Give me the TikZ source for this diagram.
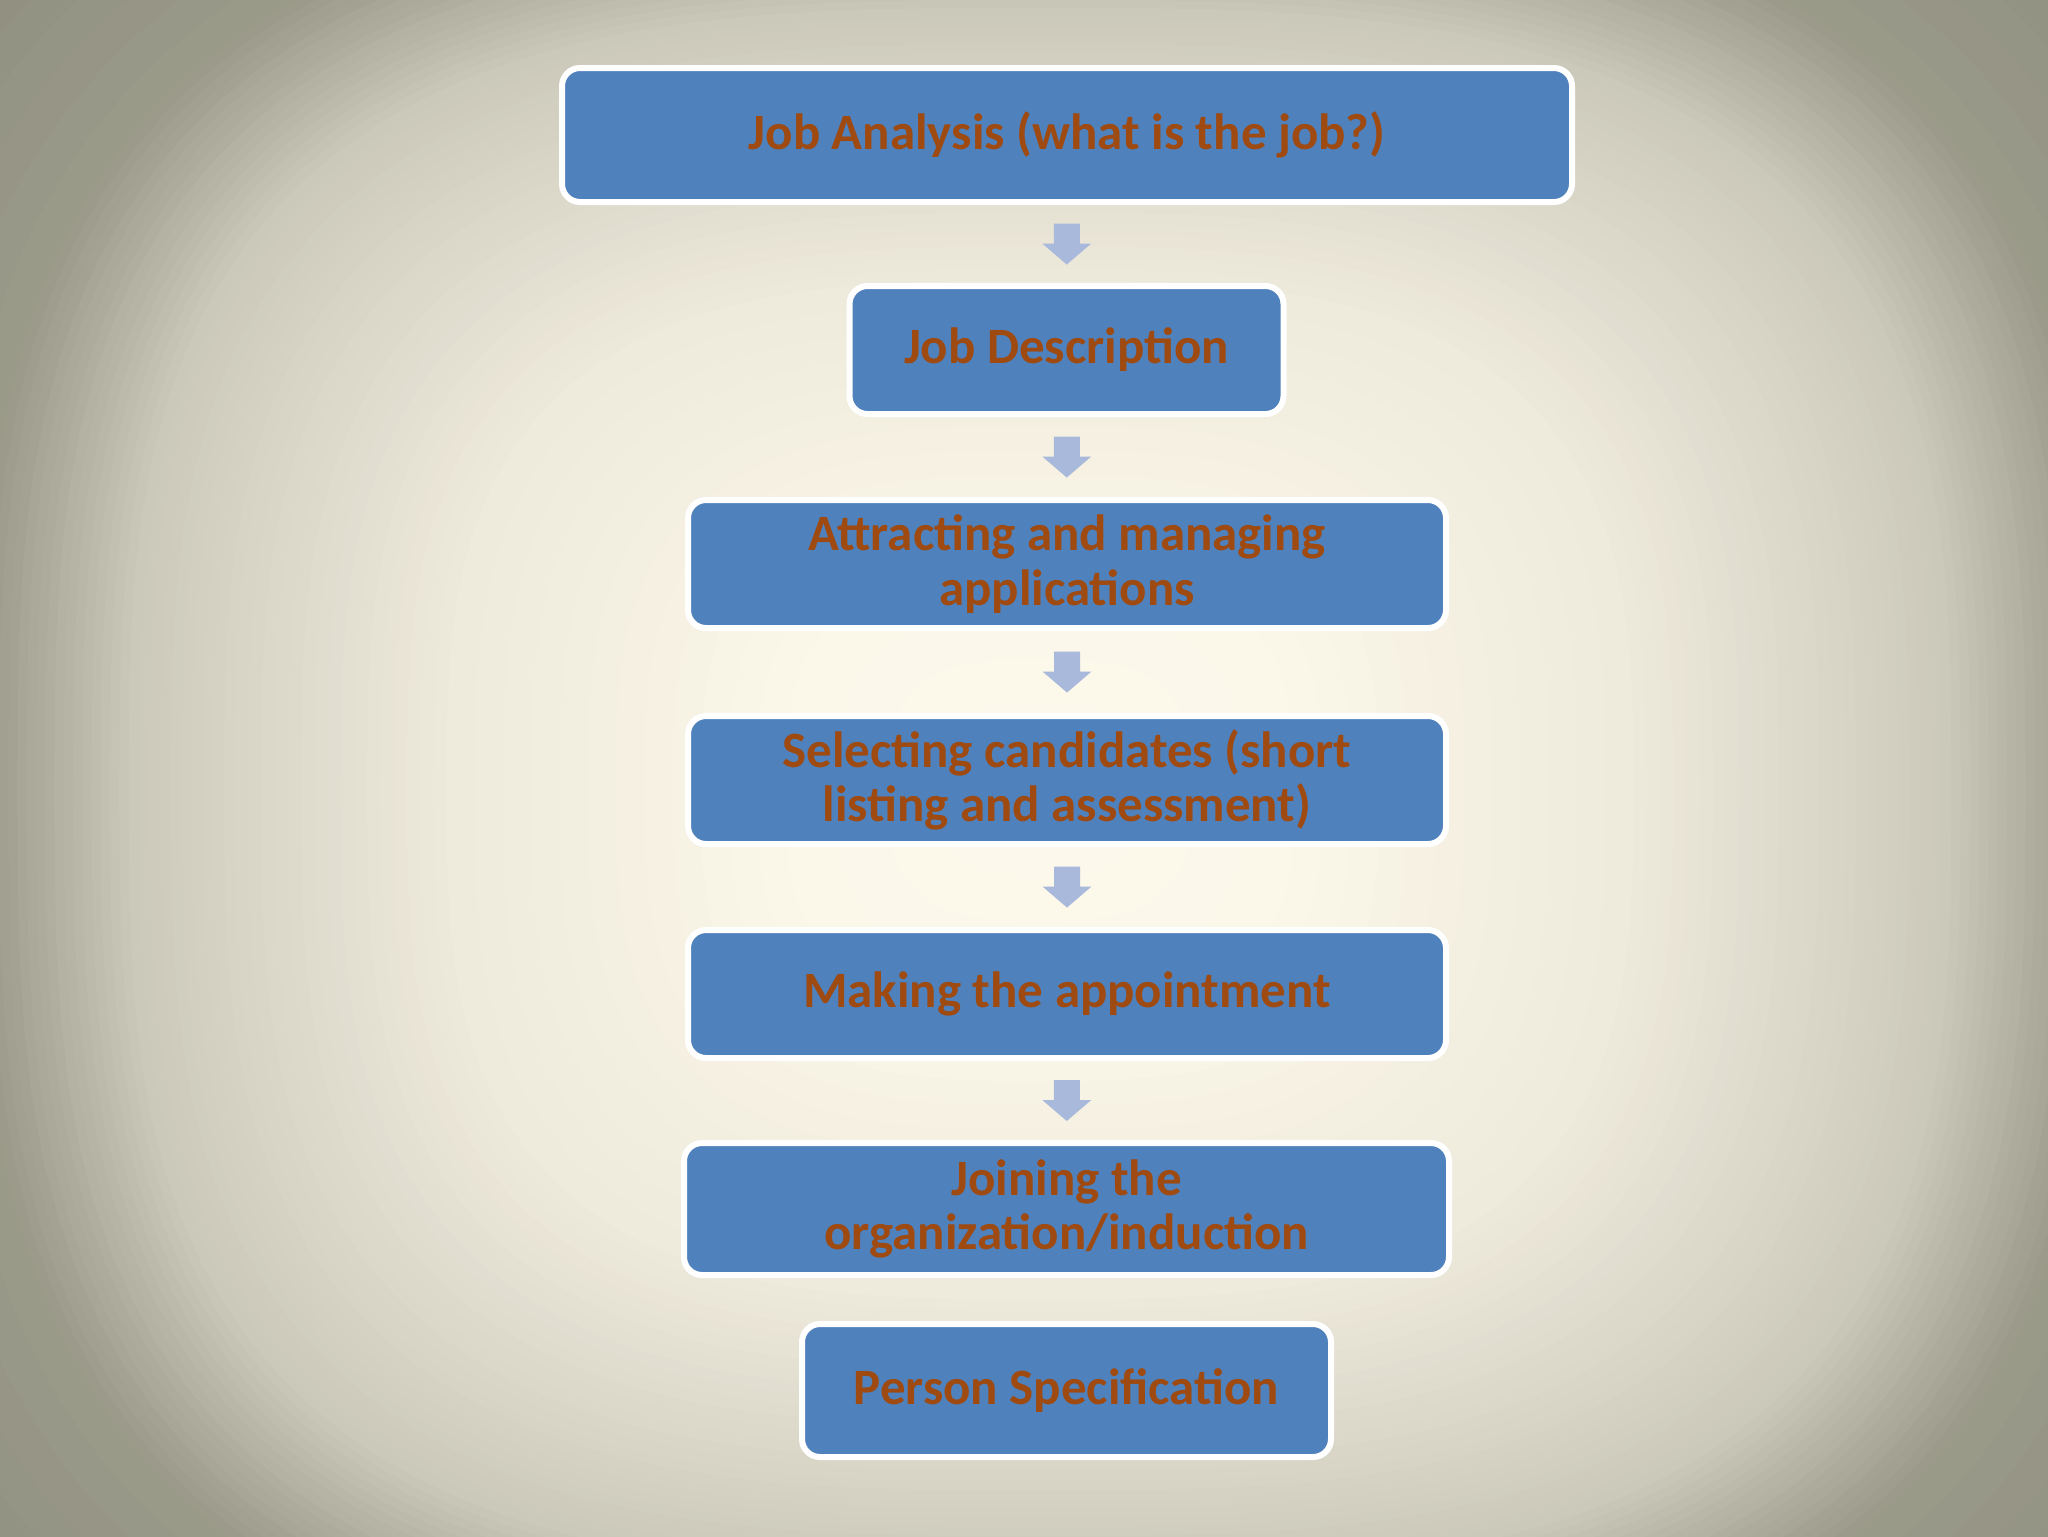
\documentclass[tikz,border=0pt]{standalone}
\usepackage{fontspec}
\setmainfont{Carlito}
\usetikzlibrary{calc}
\definecolor{boxblue}{HTML}{4F81BD}
\definecolor{txtbrown}{HTML}{9E4A10}
\definecolor{arrowc}{HTML}{A9B9DB}
\definecolor{bgca}{HTML}{FDF9EC}
\definecolor{bgcb}{HTML}{FBF7E9}
\definecolor{bgcc}{HTML}{EEEADC}
\definecolor{bgcd}{HTML}{D8D4C6}
\definecolor{bgce}{HTML}{CBC9BA}
\definecolor{bgcf}{HTML}{9C9B8B}
\definecolor{bgcg}{HTML}{8B8B7B}
\tikzset{
  stage/.style={draw=white, line width=0.6mm, fill=boxblue, rounded corners=1.8mm,
    text=txtbrown, font=\fontsize{14.5}{15.5}\selectfont\bfseries, align=center,
    inner sep=0pt, minimum height=12.8mm},
  flowarrow/.style={fill=arrowc, draw=none}
}
\newcommand\blockarrow[1]{%
  \fill[flowarrow] ($(#1)+(-13,-20.5)$) -- ($(#1)+(13,-20.5)$) -- ($(#1)+(13,-0.5)$)
    -- ($(#1)+(24.5,-0.5)$) -- ($(#1)+(0,20.5)$) -- ($(#1)+(-24.5,-0.5)$)
    -- ($(#1)+(-13,-0.5)$) -- cycle;}
\begin{document}
\begin{tikzpicture}[x=0.1mm,y=-0.1mm]
\useasboundingbox (0,0) rectangle (2048,1536);
\begin{scope}
\clip (0,0) rectangle (2048,1536);
\fill[bgcg] (0,0) rectangle (2048,1536);
\foreach \ro/\ri/\co/\ci/\n in {1.3/1.0/bgcg/bgcf/10, 1.0/0.86/bgcf/bgce/16, 0.86/0.76/bgce/bgcd/10, 0.76/0.56/bgcd/bgcc/16, 0.56/0.24/bgcc/bgcb/12, 0.24/0.0/bgcb/bgca/5}{
  \pgfmathtruncatemacro\nm{\n-1}
  \foreach \k in {0,...,\nm}{
    \pgfmathsetmacro\rr{\ro-(\ro-\ri)*\k/\n}
    \pgfmathtruncatemacro\pp{100*\k/\n}
    \fill[\ci!\pp!\co] plot[domain=0:356, samples=90]
      ({1040+1060*\rr*cos(\x)*(abs(cos(\x))+0.0001)^(-0.3333)},
       {790+910*\rr*sin(\x)*(abs(sin(\x))+0.0001)^(-0.3333)}) -- cycle;
  }
}
\end{scope}

\node[stage, minimum width=101mm, minimum height=13.4mm] (b1) at (1067,135) {Job Analysis (what is the job?)};
\node[stage, minimum width=43.4mm] (b2) at (1066.5,350) {Job Description};
\node[stage, minimum width=75.8mm] (b3) at (1067,564) {Attracting and managing\\applications};
\node[stage, minimum width=75.8mm] (b4) at (1067,780) {Selecting candidates (short\\listing and assessment)};
\node[stage, minimum width=75.8mm] (b5) at (1067,994) {Making the appointment};
\node[stage, minimum width=76.5mm, minimum height=13.2mm] (b6) at (1066.5,1209) {Joining the\\organization/induction};
\node[stage, minimum width=52.9mm, minimum height=13.3mm] (b7) at (1066.5,1390.5) {Person Specification};

\path (b1.south) -- (b2.north) coordinate[midway] (m1);
\path (b2.south) -- (b3.north) coordinate[midway] (m2);
\path (b3.south) -- (b4.north) coordinate[midway] (m3);
\path (b4.south) -- (b5.north) coordinate[midway] (m4);
\path (b5.south) -- (b6.north) coordinate[midway] (m5);
\blockarrow{m1}
\blockarrow{m2}
\blockarrow{m3}
\blockarrow{m4}
\blockarrow{m5}
\end{tikzpicture}
\end{document}
